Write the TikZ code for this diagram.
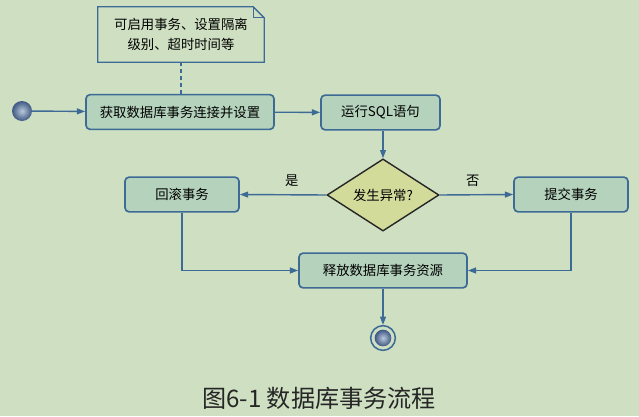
\documentclass[tikz,border=0pt]{standalone}
\usepackage{fontspec}
\setmainfont{Noto Sans CJK SC}
\usetikzlibrary{shapes.geometric,arrows.meta}
\definecolor{bggreen}{RGB}{206,223,194}
\definecolor{boxfill}{RGB}{180,210,188}
\definecolor{boxline}{RGB}{62,106,150}
\definecolor{diafill}{RGB}{211,219,155}
\definecolor{ballin}{RGB}{185,200,218}
\definecolor{ballout}{RGB}{62,88,132}
\tikzset{
  actbox/.style={draw=boxline, line width=1.4pt, fill=boxfill, rounded corners=0.12cm,
    minimum height=1.04cm, inner sep=0pt, font=\fontsize{11.4}{14}\selectfont},
  decide/.style={diamond, draw=black!85, line width=1.2pt, fill=diafill, inner sep=0pt,
    minimum width=3.36cm, minimum height=1.71cm, font=\fontsize{11.4}{14}\selectfont},
  flow/.style={draw=boxline, line width=1.2pt, -{Triangle[length=7pt,width=5pt]}},
  yesno/.style={above=3pt, font=\fontsize{11.4}{14}\selectfont},
  ballnode/.style={circle, inner sep=0pt, shading=radial, inner color=ballin, outer color=ballout}
}
\begin{document}
\begin{tikzpicture}[x=0.03cm, y=-0.03cm]
  \fill[bggreen] (0,0) rectangle (639,416);
  \useasboundingbox (0,0) rectangle (639,416);
  % note with folded corner
  \node[minimum width=4.98cm, minimum height=1.65cm, inner sep=0pt, align=center,
    font=\fontsize{11.4}{17}\selectfont] (note) at (181,34.5) {可启用事务、设置隔离\\级别、超时时间等};
  \draw[boxline, line width=1.2pt]
    (note.south west) -- (note.north west) -- ([xshift=-0.33cm]note.north east)
    -- ([yshift=-0.33cm]note.north east) -- (note.south east) -- cycle;
  \draw[boxline, line width=1.2pt] ([xshift=-0.33cm]note.north east)
    -- ([xshift=-0.33cm,yshift=-0.33cm]note.north east) -- ([yshift=-0.33cm]note.north east);
  % activities
  \node[ballnode, minimum size=0.6cm] (start) at (22,111) {};
  \node[actbox, minimum width=5.64cm] (getconn) at (180,112) {获取数据库事务连接并设置};
  \node[actbox, minimum width=3.57cm] (runsql) at (380.5,112.5) {运行SQL语句};
  \node[decide] (check) at (383,195) {发生异常?};
  \node[actbox, minimum width=3.42cm] (rollback) at (182,194.5) {回滚事务};
  \node[actbox, minimum width=3.42cm] (commit) at (571,194.5) {提交事务};
  \node[actbox, minimum width=5.04cm] (release) at (383,270.5) {释放数据库事务资源};
  \node[circle, draw=boxline, line width=1.3pt, minimum size=0.74cm, inner sep=0pt] (stop) at (383,338) {};
  \node[ballnode, minimum size=0.5cm] (stopin) at (stop) {};
  % connectors
  \draw[boxline, line width=1.1pt, dashed] (note.south) -- (note.south |- getconn.north);
  \draw[flow] (start) -- (getconn);
  \draw[flow] (getconn) -- (runsql);
  \draw[flow] (runsql.south -| check.north) -- (check.north);
  \draw[flow] (check.west) -- node[yesno, pos=0.4] {是} (rollback.east);
  \draw[flow] (check.east) -- node[yesno, pos=0.45] {否} (commit.west);
  \draw[flow] (rollback.south) |- (release.west);
  \draw[flow] (commit.south) |- (release.east);
  \draw[flow] (release) -- (stop);
  % caption
  \node[font=\fontsize{20.6}{24}\selectfont, text=black!85] (caption) at (319,398) {图6-1 数据库事务流程};
\end{tikzpicture}
\end{document}
